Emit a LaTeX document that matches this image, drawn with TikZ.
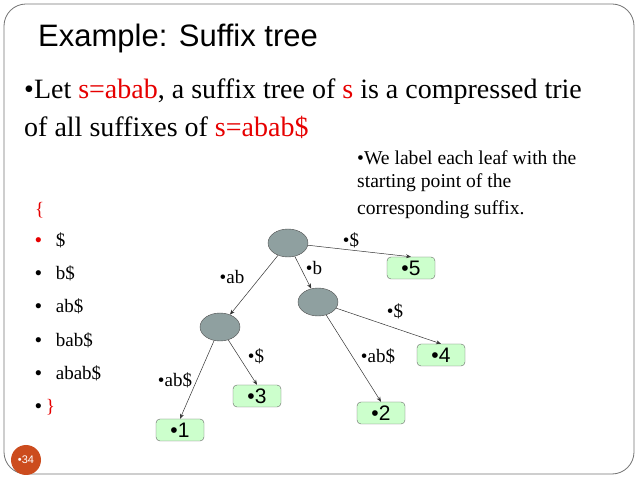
\documentclass[tikz,border=0pt]{standalone}
\usepackage{fontspec}
\setmainfont{Liberation Serif}
\newfontfamily\sansf{Liberation Sans}
\usetikzlibrary{shapes.geometric,arrows.meta}
\definecolor{leafg}{RGB}{204,255,204}
\definecolor{inner}{RGB}{143,160,160}
\definecolor{pg}{RGB}{204,76,30}
\definecolor{myred}{RGB}{230,0,0}
\begin{document}
\begin{tikzpicture}[x=1pt,y=-1pt,
  inode/.style={ellipse,draw=black!70,fill=inner,minimum width=40,minimum height=28,inner sep=0},
  leaf/.style={rectangle,rounded corners=4,draw=black!60,fill=leafg,minimum width=48,minimum height=22,inner sep=0,font=\sansf\fontsize{21}{21}\selectfont},
  edge/.style={-{Stealth[length=5pt,width=4pt]},black!80,line width=0.5pt},
  elab/.style={font=\fontsize{19}{19}\selectfont,inner sep=0},
  litem/.style={anchor=west,font=\fontsize{19}{19}\selectfont,inner sep=0}]
\useasboundingbox (0,0) rectangle (638,478);
\draw[black!55,line width=0.8pt,rounded corners=22] (4,4) rectangle (634,474);
\node[anchor=west,font=\sansf\fontsize{31}{31}\selectfont,inner sep=0] (title) at (38,38) {Example: Suffix tree};
\node[anchor=west,font=\fontsize{28}{28}\selectfont,inner sep=0] (l1) at (24,92) {•Let \textcolor{myred}{s=abab}, a suffix tree of \textcolor{myred}{s} is a compressed trie};
\node[anchor=west,font=\fontsize{28}{28}\selectfont,inner sep=0] (l2) at (24,127) {of all suffixes of \textcolor{myred}{s=abab\$}};
\node[anchor=west,font=\fontsize{19.6}{19.6}\selectfont,inner sep=0] (n1) at (357,158) {•We label each leaf with the};
\node[anchor=west,font=\fontsize{19.6}{19.6}\selectfont,inner sep=0] (n2) at (357,183) {starting point of the};
\node[anchor=west,font=\fontsize{19.6}{19.6}\selectfont,inner sep=0] (n3) at (357,210) {corresponding suffix.};
\node[litem,text=myred] (br1) at (35,210) {\{};
\node[litem] (i1) at (35,240) {\textcolor{myred}{\sansf•}\hspace{14pt}\$};
\node[litem] (i2) at (35,273) {{\sansf•}\hspace{14pt}b\$};
\node[litem] (i3) at (35,306) {{\sansf•}\hspace{14pt}ab\$};
\node[litem] (i4) at (35,340) {{\sansf•}\hspace{14pt}bab\$};
\node[litem] (i5) at (35,373) {{\sansf•}\hspace{14pt}abab\$};
\node[litem] (i6) at (35,407) {{\sansf•}\hspace{4pt}\textcolor{myred}{\}}};
\node[circle,fill=pg,minimum size=30,inner sep=0,text=white,font=\sansf\fontsize{11}{11}\selectfont] (pg) at (26,460) {•34};
\node[inode] (r) at (288,243) {};
\node[inode] (b) at (318,302) {};
\node[inode] (a) at (220,327) {};
\node[leaf] (f5) at (411,268) {•5};
\node[leaf] (f4) at (441,355) {•4};
\node[leaf] (f3) at (257,396) {•3};
\node[leaf] (f2) at (381,413) {•2};
\node[leaf] (f1) at (180,430) {•1};
\draw[edge] (r) -- (f5.north);
\draw[edge] (r) -- (b);
\draw[edge] (r) -- (a);
\draw[edge] (b) -- (f4.north);
\draw[edge] (b) -- (f2.north);
\draw[edge] (a) -- (f3.north);
\draw[edge] (a) -- (f1.north);
\node[elab] (e1) at (351,240) {•\$};
\node[elab] (e2) at (232,277) {•ab};
\node[elab] (e3) at (314,268) {•b};
\node[elab] (e4) at (395,311) {•\$};
\node[elab] (e5) at (256,356) {•\$};
\node[elab] (e6) at (378,356) {•ab\$};
\node[elab] (e7) at (175,380) {•ab\$};
\end{tikzpicture}
\end{document}
